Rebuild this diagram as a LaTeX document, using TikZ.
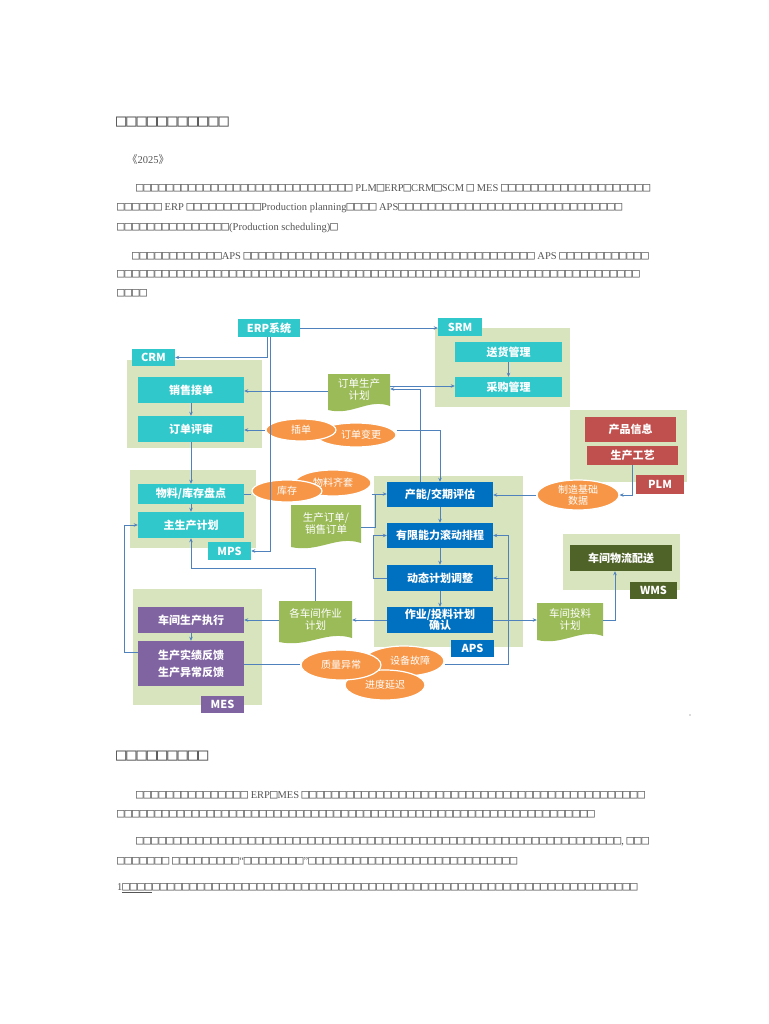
\documentclass[tikz,border=0pt]{standalone}
\usepackage{fontspec}
\setmainfont{Liberation Serif}
\newfontfamily\cjk{Noto Sans CJK SC}
\newfontfamily\tofu{DejaVu Sans Mono}
\usetikzlibrary{arrows.meta,shapes.geometric}
\definecolor{teal1}{HTML}{31C8CC}
\definecolor{panel}{HTML}{D7E4BD}
\definecolor{aps}{HTML}{0070C0}
\definecolor{plm}{HTML}{C0504D}
\definecolor{mes}{HTML}{8064A2}
\definecolor{wms}{HTML}{4F6228}
\definecolor{docg}{HTML}{9BBB59}
\definecolor{ora}{HTML}{F79646}
\definecolor{con}{HTML}{4F81BD}
\definecolor{txt}{HTML}{555555}
\newcommand\B[1]{{\tofu\fontsize{12.4}{12}\selectfont\foreach\i in {1,...,#1}{□}}}
\newcommand\ptxt[3]{\node[anchor=west,inner sep=0,text=txt,font=\fontsize{10.5}{12}\selectfont] at (#1,#2) {#3};}
\tikzset{
 box/.style={fill=#1,text=white,inner sep=0,font=\cjk\bfseries\fontsize{11}{13}\selectfont,align=center},
 ell/.style={ellipse,fill=ora,draw=white,line width=1.2pt,text=white,font=\cjk\fontsize{10}{11}\selectfont,inner sep=0,align=center},
 conn/.style={draw=con,line width=0.8pt,-{Stealth[length=4pt,width=3.5pt]}},
 line/.style={draw=con,line width=0.8pt},
}
\newcommand\docnode[6]{%
 \fill[docg] (#2,#3) -- (#4,#3) -- (#4,#5-4) .. controls ({#4-(#4-#2)*0.35},{#5-12}) and ({#2+(#4-#2)*0.4},{#5+6}) .. (#2,#5) -- cycle;
 \node[inner sep=0,text=white,font=\cjk\fontsize{10.5}{12}\selectfont,align=center,minimum width={#4-#2},minimum height={#5-#3-4}] (#1) at ({(#2+#4)/2},{(#3+#5-4)/2}) {#6};}
\newcommand\bx[7]{\node[box=#2,minimum width={#5-#3},minimum height={#6-#4}] (#1) at ({(#3+#5)/2},{(#4+#6)/2}) {#7};}
\begin{document}
\begin{tikzpicture}[x=1pt,y=-1pt]
\useasboundingbox[fill=white] (0,0) rectangle (768,1024);
% text above
\node[anchor=west,inner sep=0,text=txt,font=\tofu\fontsize{17}{20}\selectfont] at (116,122) {\foreach\i in {1,...,11}{□}};
\ptxt{127}{160}{{\cjk《}2025{\cjk》}}
\ptxt{136}{188}{\B{29} PLM\B{1}ERP\B{1}CRM\B{1}SCM \B{1} MES \B{20}}
\ptxt{117}{208}{\B{6} ERP \B{10}Production planning\B{4} APS\B{30}}
\ptxt{117}{228}{\B{15}(Production scheduling)\B{1}}
\ptxt{132}{256}{\B{12}APS \B{39} APS \B{12}}
\ptxt{117}{274}{\B{70}}
\ptxt{117}{293}{\B{4}}
% text below
\node[anchor=west,inner sep=0,text=txt,font=\tofu\fontsize{17}{20}\selectfont] at (116,756) {\foreach\i in {1,...,9}{□}};
\ptxt{136}{795}{\B{15} ERP\B{1}MES \B{46}}
\ptxt{117}{814}{\B{64}}
\ptxt{136}{842}{\B{65}, \B{3}}
\ptxt{117}{861}{\B{7} \B{9}“\B{8}”\B{28}}
\ptxt{117}{888}{1\underline{\B{4}}\B{65}}
% panels
\fill[panel] (127,360) rectangle (262,448);
\fill[panel] (130,470) rectangle (256,548);
\fill[panel] (435,328) rectangle (570,407);
\fill[panel] (374,476) rectangle (523,647);
\fill[panel] (570,410) rectangle (687,482);
\fill[panel] (563,534) rectangle (680,590);
\fill[panel] (133,589) rectangle (262,705);
% boxes
\bx{erp}{teal1}{238}{319}{300}{337}{ERP系统}
\bx{crm}{teal1}{132}{349}{175}{366}{CRM}
\bx{xs}{teal1}{138}{377}{244}{403}{销售接单}
\bx{ps}{teal1}{138}{416}{244}{442}{订单评审}
\bx{wl}{teal1}{138}{484}{244}{504}{物料/库存盘点}
\bx{zs}{teal1}{138}{512}{244}{538}{主生产计划}
\bx{mps}{teal1}{208}{542}{251}{560}{MPS}
\bx{srm}{teal1}{438}{318}{482}{336}{SRM}
\bx{sh}{teal1}{455}{342}{562}{362}{送货管理}
\bx{cg}{teal1}{455}{377}{562}{397}{采购管理}
\bx{cp}{plm}{585}{417}{676}{442}{产品信息}
\bx{gy}{plm}{587}{446}{678}{465}{生产工艺}
\bx{plm}{plm}{636}{475}{684}{494}{PLM}
\bx{cn}{aps}{387}{482}{493}{507}{产能/交期评估}
\bx{yx}{aps}{387}{523}{493}{548}{有限能力滚动排程}
\bx{dt}{aps}{387}{565}{493}{591}{动态计划调整}
\bx{zy}{aps}{387}{607}{493}{633}{作业/投料计划\\[-2pt]确认}
\bx{apsl}{aps}{451}{640}{494}{657}{APS}
\bx{cj}{wms}{570}{545}{672}{571}{车间物流配送}
\bx{wmsl}{wms}{630}{582}{677}{599}{WMS}
\bx{zx}{mes}{138}{607}{244}{633}{车间生产执行}
\bx{fk}{mes}{138}{641}{244}{686}{生产实绩反馈\\[4pt]生产异常反馈}
\bx{mesl}{mes}{201}{696}{244}{713}{MES}
% documents
\docnode{ddjh}{328}{374}{390}{410}{订单生产\\计划}
\docnode{scdd}{291}{505}{361}{547}{生产订单/\\销售订单}
\docnode{gcj}{279}{601}{352}{642}{各车间作业\\计划}
\docnode{tl}{537}{603}{603}{640}{车间投料\\计划}
% ellipses
\node[ell,minimum width=80pt,minimum height=24pt] (bg) at (356,435) {\hspace{10pt}订单变更};
\node[ell,minimum width=70pt,minimum height=22pt] (cd) at (301,430) {插单};
\node[ell,minimum width=76pt,minimum height=26pt] (qt) at (333,483) {物料齐套};
\node[ell,minimum width=70pt,minimum height=22pt] (kc) at (287,491) {库存};
\node[ell,minimum width=82pt,minimum height=30pt] (zz) at (578,495) {制造基础\\数据};
\node[ell,minimum width=80pt,minimum height=30pt] (gz) at (404,661) {\hspace{12pt}设备故障};
\node[ell,minimum width=80pt,minimum height=30pt] (yc) at (385,685) {进度延迟};
\node[ell,minimum width=80pt,minimum height=30pt] (zl) at (341,665) {质量异常};
% connectors
\draw[conn] (erp.east) -- (srm.west |- erp.east);
\draw[conn] (erp.south -| 267,0) |- (crm.east);
\draw[conn] (erp.south -| 270,0) -- (270,551) -- (mps.east |- 0,551);
\draw[conn] (ddjh.west |- 0,391) -- (xs.east |- 0,391);
\draw[conn] (cn.north -| 420,0) |- (ddjh.east |- 0,389);
\draw[conn] (ddjh.east |- 0,386) -- (cg.west |- 0,386);
\draw[conn] (sh) -- (cg);
\draw[conn] (xs) -- (ps);
\draw[conn] (cd.west) -- (ps.east |- cd.west);
\draw[conn] (bg.east |- 0,430) -- (440,430) -- (cn.north -| 440,0);
\draw[conn] (ps) -- (wl);
\draw[conn] (wl) -- (zs);
\draw[line] (wl.east) -- (kc.west |- wl.east);
\draw[conn] (qt.east |- 0,494) -- (cn.west |- 0,494);
\draw[line] (scdd.east |- 0,527) -- (375,527) -- (375,494);
\draw[conn] (fk.west |- 0,652) -- (124,652) |- (zs.west);
\draw[conn] (gcj.north) |- (191,568) -- (zs.south);
\draw[conn] (zy.west) -- (gcj.east |- zy.west);
\draw[conn] (gcj.west |- zx.east) -- (zx.east);
\draw[conn] (zx) -- (fk);
\draw[line] (fk.east |- 0,664) -- (zl.west |- 0,664);
\draw[conn] (gz.east |- 0,664) -- (508,664) |- (yx.east);
\draw[conn] (508,578) -- (dt.east);
\draw[conn] (dt.west) -- (373,578) |- (yx.west);
\draw[conn] (cn) -- (yx);
\draw[conn] (yx) -- (dt);
\draw[conn] (dt) -- (zy);
\draw[conn] (zy.east) -- (tl.west |- zy.east);
\draw[conn] (tl.east |- 0,620) -- (615,620) -- (cj.south -| 615,0);
\draw[conn] (gy.south -| 632,0) |- (zz.east);
\draw[conn] (zz.west) -- (cn.east |- zz.west);
\fill[black!60] (690,715) circle (0.6);
\end{tikzpicture}
\end{document}
